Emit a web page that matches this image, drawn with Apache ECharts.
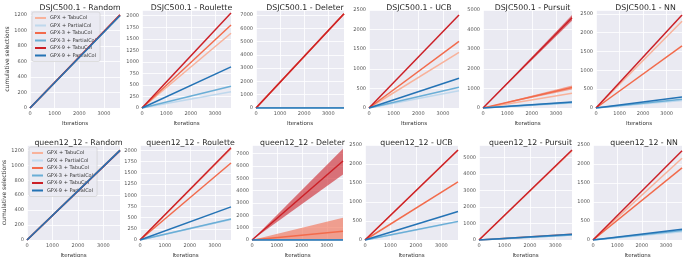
<!DOCTYPE html>
<html><head><meta charset="utf-8">
<script src="https://cdn.jsdelivr.net/npm/echarts@6/dist/echarts.min.js"></script>
<style>html,body{margin:0;padding:0;background:#fff}#c{width:685px;height:260px}</style>
</head><body><div id="c"></div>
<script>
// ---------- DATA ----------
const rowNames = ['DSJC500.1', 'queen12_12'];
const strategies = ['Random', 'Roulette', 'Deleter', 'UCB', 'Pursuit', 'NN'];
const seriesNames = ['GPX + TabuCol', 'GPX + PartialCol', 'GPX-3 + TabuCol', 'GPX-3 + PartialCol', 'GPX-9 + TabuCol', 'GPX-9 + PartialCol'];
const iterations = [0, 3650];
const xTicks = [0, 1000, 2000, 3000];

// values of each series (legend order) at the iterations above
const dsjcRandom   = [[0, 1195], [0, 1190], [0, 1200], [0, 1195], [0, 1205], [0, 1195]];
const dsjcRoulette = [[0, 1620], [0, 350],  [0, 1800], [0, 470],  [0, 2060], [0, 890]];
const dsjcDeleter  = [[0, 7100], [0, 0],    [0, 7100], [0, 0],    [0, 7100], [0, 0]];
const dsjcUCB      = [[0, 1420], [0, 440],  [0, 1700], [0, 530],  [0, 2370], [0, 760]];
const dsjcPursuit  = [[0, 750],  [0, 250],  [0, 1050], [0, 280],  [0, 4600], [0, 300]];
const dsjcNN       = [[0, 2300], [0, 200],  [0, 1650], [0, 230],  [0, 2470], [0, 290]];

const queenRandom   = [[0, 1200], [0, 1195], [0, 1205], [0, 1200], [0, 1195], [0, 1200]];
const queenRoulette = [[0, 2040], [0, 460],  [0, 1720], [0, 470],  [0, 2060], [0, 740]];
const queenDeleter  = [[0, 0],    [0, 0],    [0, 700],  [0, 0],    [0, 6400], [0, 0]];
const queenUCB      = [[0, 2360], [0, 480],  [0, 1530], [0, 490],  [0, 2370], [0, 750]];
const queenPursuit  = [[0, 5400], [0, 300],  [0, 350],  [0, 300],  [0, 5450], [0, 350]];
const queenNN       = [[0, 2150], [0, 220],  [0, 1900], [0, 250],  [0, 2350], [0, 280]];

// confidence bands: [series index, lower values, upper values] at iterations
const dsjcPursuitBands = [[4, [0, 4450], [0, 4750]], [2, [0, 950], [0, 1150]]];
const queenDeleterBands = [[4, [0, 5300], [0, 7400]], [2, [0, 0], [0, 1800]]];

const yMaxTop = [1265, 2124, 7380, 2500, 5000, 2600];
const yStepTop = [200, 250, 1000, 500, 1000, 500];
const yMaxBottom = [1272, 2122, 7700, 2500, 5750, 2500];
const yStepBottom = [200, 250, 1000, 500, 1000, 500];

// ---------- STYLE / LAYOUT ----------
const colors = ['#f8b29b', '#bfd8ed', '#f26b4c', '#6aaed6', '#cb2027', '#2473b5'];
const bandColors = {2: 'rgba(242,107,76,0.6)', 4: 'rgba(203,32,39,0.6)'};
const panelData = [
  [dsjcRandom, dsjcRoulette, dsjcDeleter, dsjcUCB, dsjcPursuit, dsjcNN],
  [queenRandom, queenRoulette, queenDeleter, queenUCB, queenPursuit, queenNN]
];
const panelBands = [{4: dsjcPursuitBands}, {2: queenDeleterBands}];
const yMax = [yMaxTop, yMaxBottom];
const yStep = [yStepTop, yStepBottom];
const lefts = [[30, 142, 256, 369, 483, 596], [27, 140, 252, 365, 479, 593]];
const rights = [[120, 231, 344, 459, 572, 685], [120, 231, 343, 458, 572, 685]];
const tops = [10, 145];
const H = 98;
const FONT = 'DejaVu Sans';

const grids = [], xAxes = [], yAxes = [], series = [], titles = [];
for (let r = 0; r < 2; r++) {
  for (let c = 0; c < 6; c++) {
    const gi = r * 6 + c;
    const left = lefts[r][c], width = rights[r][c] - lefts[r][c];
    grids.push({left: left, top: tops[r], width: width, height: H, show: true,
      backgroundColor: '#eaeaf2', borderWidth: 0, containLabel: false});
    titles.push({text: rowNames[r] + ' - ' + strategies[c], left: left + width / 2, top: r === 0 ? -1 : 134,
      textAlign: 'center', textStyle: {fontFamily: FONT, fontSize: 7.8, fontWeight: 'normal', color: '#262626'}});
    xAxes.push({type: 'value', gridIndex: gi, min: iterations[0], max: iterations[iterations.length - 1], interval: 1000,
      name: 'Iterations', nameLocation: 'middle', nameGap: 13,
      nameTextStyle: {fontFamily: FONT, fontSize: 5.5, color: '#333'},
      axisLine: {show: false}, axisTick: {show: false},
      axisLabel: {fontFamily: FONT, fontSize: 5, color: '#555', margin: 3,
        formatter: v => (xTicks.indexOf(v) >= 0 ? String(v) : '')},
      splitLine: {show: true, lineStyle: {color: '#ffffff', width: 0.8}}});
    const step = yStep[r][c];
    yAxes.push({type: 'value', gridIndex: gi, min: 0, max: yMax[r][c], interval: step,
      name: c === 0 ? 'cumulative selections' : '', nameLocation: 'middle', nameGap: 20,
      nameTextStyle: {fontFamily: FONT, fontSize: 6, color: '#333'},
      axisLine: {show: false}, axisTick: {show: false},
      axisLabel: {fontFamily: FONT, fontSize: 5, color: '#555', margin: 3,
        formatter: v => (v % step === 0 ? String(v) : '')},
      splitLine: {show: true, lineStyle: {color: '#ffffff', width: 0.8}}});
    const bands = panelBands[r][c] || [];
    bands.forEach(b => {
      const idx = b[0], lower = b[1], upper = b[2];
      series.push({type: 'custom', name: 'band', xAxisIndex: gi, yAxisIndex: gi, silent: true, z: 1,
        data: [[iterations[0], 0]],
        renderItem: function (params, api) {
          const pts = [];
          for (let k = 0; k < iterations.length; k++) pts.push(api.coord([iterations[k], upper[k]]));
          for (let k = iterations.length - 1; k >= 0; k--) pts.push(api.coord([iterations[k], lower[k]]));
          return {type: 'polygon', shape: {points: pts}, style: {fill: bandColors[idx], stroke: null}};
        }});
    });
    panelData[r][c].forEach((vals, si) => {
      series.push({type: 'line', name: seriesNames[si], xAxisIndex: gi, yAxisIndex: gi,
        data: iterations.map((x, k) => [x, vals[k]]),
        showSymbol: false, symbol: 'none', z: 2 + si, animation: false,
        lineStyle: {color: colors[si], width: 1.5}, itemStyle: {color: colors[si]}});
    });
  }
}

const legendBase = {orient: 'vertical', data: seriesNames, icon: 'rect', itemWidth: 11, itemHeight: 2,
  itemGap: 1.5, padding: [3, 4, 3, 3], backgroundColor: 'rgba(234,234,242,0.85)', borderColor: '#cccccc',
  borderWidth: 0.6, borderRadius: 2, textStyle: {fontFamily: FONT, fontSize: 5, lineHeight: 6, color: '#333', padding: [0, 0, 0, -1]},
  selectedMode: false};
const legends = [Object.assign({}, legendBase, {left: 32, top: 12}), Object.assign({}, legendBase, {left: 29, top: 147})];

const chart = echarts.init(document.getElementById('c'), null, {renderer: 'canvas'});
chart.setOption({animation: false, color: colors, title: titles, grid: grids, xAxis: xAxes, yAxis: yAxes,
  legend: legends, series: series});
</script></body></html>
